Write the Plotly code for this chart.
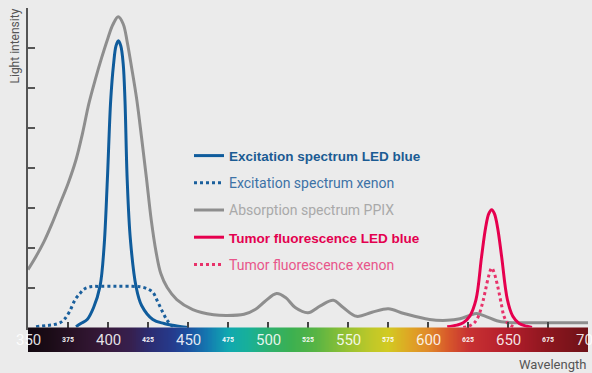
import plotly.graph_objects as go
import numpy as np

# ---------------- data ----------------
wl_led_blue = [380, 383, 387, 391, 395, 397.5, 399.6, 401.7, 403.5, 405, 406.5, 408, 409.5,
               410.6, 412, 414, 417.5, 421, 428, 435, 443, 450]
int_led_blue = [0.02, 0.1, 0.2, 0.5, 1.03, 2.0, 3.7, 5.7, 6.6, 7.05, 7.18, 7.05, 6.6,
                5.7, 3.7, 2.2, 1.03, 0.55, 0.2, 0.1, 0.04, 0.0]

wl_xenon_blue = [355, 362, 366, 370, 373, 376, 379.5, 382.5, 385, 389, 395, 405, 415, 420,
                 424, 428, 431, 434, 437, 440, 442]
int_xenon_blue = [0.02, 0.05, 0.07, 0.12, 0.22, 0.4, 0.7, 0.85, 0.96, 1.02, 1.03, 1.03, 1.03, 1.02,
                  0.98, 0.88, 0.65, 0.4, 0.18, 0.04, 0.0]

wl_ppix = [350, 355, 360, 365, 370, 375, 380, 384, 388, 392, 396, 400, 403, 406.4,
           409.5, 412, 414.8, 418, 421, 424, 427, 430, 433, 437, 443, 453, 466, 474,
           485, 492, 498, 505.4, 511, 517, 525, 533, 540.8, 547, 555.4, 565, 575.2, 585,
           601, 612, 620, 626, 630.4, 636, 643, 649, 660, 700]
int_ppix = [1.45, 1.78, 2.15, 2.6, 3.1, 3.6, 4.2, 4.85, 5.6, 6.2, 6.75, 7.25, 7.58, 7.78,
            7.6, 7.15, 6.5, 5.7, 4.75, 3.75, 2.7, 1.9, 1.35, 1.0, 0.7, 0.45, 0.32, 0.3,
            0.33, 0.45, 0.65, 0.85, 0.75, 0.5, 0.37, 0.55, 0.68, 0.5, 0.28, 0.38, 0.47, 0.35,
            0.2, 0.18, 0.22, 0.3, 0.35, 0.28, 0.17, 0.13, 0.12, 0.12]

wl_led_red = [612, 618, 622, 626, 630, 633.5, 636, 638, 639.8, 641.5, 643.5, 646, 649.6,
              653, 657, 661.7, 665]
int_led_red = [0.02, 0.06, 0.12, 0.28, 0.7, 1.78, 2.5, 2.85, 2.95, 2.85, 2.5, 1.78, 0.7,
               0.28, 0.1, 0.03, 0.0]

wl_xenon_red = [622, 626, 629, 631.5, 634, 636, 638, 639.8, 641.5, 644, 646, 647.5, 650, 654.4]
int_xenon_red = [0.0, 0.04, 0.12, 0.28, 0.6, 0.95, 1.3, 1.49, 1.35, 0.95, 0.55, 0.28, 0.1, 0.0]

major_ticks = [350, 400, 450, 500, 550, 600, 650, 700]
minor_ticks = [375, 425, 475, 525, 575, 625, 675]

names = ["Excitation spectrum LED blue", "Excitation spectrum xenon", "Absorption spectrum PPIX",
         "Tumor fluorescence LED blue", "Tumor fluorescence xenon"]

# spectrum colour stops (wavelength, colour)
spec_wl = [350, 365, 380, 400, 415, 425, 440, 450, 462, 475, 488, 500, 515, 530, 550, 565,
           575, 588, 600, 612, 625, 650, 675, 700]
spec_col = ["#120810", "#1c0c18", "#2a1228", "#381a3c", "#362050", "#2c2c70", "#253a8c",
            "#1c50a0", "#1478b0", "#10a8b0", "#18b098", "#2cb070", "#3cb050", "#58b444",
            "#98c232", "#c0c828", "#d2ca22", "#dea624", "#e08a2a", "#d85a2a", "#c83232",
            "#b41e2c", "#8c161e", "#6e1218"]

# ---------------- figure ----------------
BG = "#ebebeb"
W, H = 592, 373
ML, MR, MT, MB = 28, 4, 8, 21
plot_h = H - MT - MB
axis_px = 327.5
split = (H - MB - axis_px) / plot_h

fig = go.Figure()

xs = np.arange(350, 700.5, 0.5)
cs = [[(w - 350) / 350, c] for w, c in zip(spec_wl, spec_col)]
fig.add_trace(go.Heatmap(x=xs, y=[0, 1], z=[xs, xs], colorscale=cs, zmin=350, zmax=700,
                         showscale=False, hoverinfo="skip", xaxis="x", yaxis="y2",
                         showlegend=False))

blue = "#0f5c9c"
red = "#e6004e"
gray = "#8e8e8e"
BOLD = "font-family:Liberation Sans, Arial, sans-serif;font-weight:bold;font-size:13.5px;"

fig.add_trace(go.Scatter(x=wl_ppix, y=int_ppix, mode="lines", line=dict(color=gray, width=3, shape="spline"),
                         name="<span style='color:#a9a9a9'>" + names[2] + "</span>",
                         legendgroup="g3", legendrank=3))
fig.add_trace(go.Scatter(x=wl_xenon_blue, y=int_xenon_blue, mode="lines",
                         line=dict(color="#1a5f9c", width=3, dash="dot", shape="spline"),
                         name="<span style='color:#3d72a6'>" + names[1] + "</span>",
                         legendgroup="g2", legendrank=2))
fig.add_trace(go.Scatter(x=wl_led_blue, y=int_led_blue, mode="lines",
                         line=dict(color=blue, width=3, shape="spline"),
                         name="<span style='" + BOLD + "color:#1b5b93'>" + names[0] + "</span>",
                         legendgroup="g1", legendrank=1))
fig.add_trace(go.Scatter(x=wl_xenon_red, y=int_xenon_red, mode="lines",
                         line=dict(color="#e8326a", width=3, dash="dot", shape="spline"),
                         name="<span style='color:#e8558a'>" + names[4] + "</span>",
                         legendgroup="g5", legendrank=5))
fig.add_trace(go.Scatter(x=wl_led_red, y=int_led_red, mode="lines",
                         line=dict(color=red, width=3, shape="spline"),
                         name="<span style='" + BOLD + "color:#e3004f'>" + names[3] + "</span>",
                         legendgroup="g4", legendrank=4))

annotations = []
for t in major_ticks:
    annotations.append(dict(x=t, y=0.5, xref="x", yref="y2", text=str(t), showarrow=False,
                            xanchor="center", yanchor="middle",
                            font=dict(family="Roboto", size=15, color="rgba(255,255,255,0.88)")))
for t in minor_ticks:
    annotations.append(dict(x=t, y=0.5, xref="x", yref="y2", text="<b>" + str(t) + "</b>",
                            showarrow=False, xanchor="center", yanchor="middle",
                            font=dict(family="Roboto Condensed, Roboto", size=8,
                                      color="rgba(255,255,255,0.9)")))
annotations.append(dict(x=(14 - ML) / (W - ML - MR), y=1 + (MT - 7) / plot_h, xref="paper", yref="paper",
                        text="Light intensity", textangle=-90, showarrow=False,
                        xanchor="center", yanchor="top",
                        font=dict(family="Roboto", size=12, color="#555555")))
annotations.append(dict(x=(588 - ML) / (W - ML - MR), y=(H - MB - 364) / plot_h, xref="paper", yref="paper",
                        text="Wavelength", showarrow=False, xanchor="right", yanchor="middle",
                        font=dict(family="Roboto", size=13, color="#555555")))

fig.update_layout(
    width=W, height=H,
    margin=dict(l=ML, r=MR, t=MT, b=MB, pad=0),
    paper_bgcolor=BG, plot_bgcolor=BG,
    showlegend=True,
    legend=dict(x=(189 - ML) / (W - ML - MR), y=(H - MB - 140) / plot_h, xanchor="left", yanchor="top",
                bgcolor="rgba(0,0,0,0)", font=dict(family="Roboto", size=14),
                traceorder="grouped", tracegroupgap=6, itemwidth=30),
    xaxis=dict(range=[350, 700], tickvals=major_ticks + minor_ticks, showticklabels=False,
               ticks="inside", ticklen=6, tickwidth=1.5, tickcolor="#444444",
               showline=True, linecolor="#555555", linewidth=2, showgrid=False, zeroline=False,
               anchor="y", fixedrange=True),
    yaxis=dict(domain=[split, 1], range=[0, 8], dtick=1, tick0=0, showticklabels=False,
               ticks="inside", ticklen=7, tickwidth=1.5, tickcolor="#555555",
               showline=True, linecolor="#555555", linewidth=1.5, showgrid=False, zeroline=False),
    yaxis2=dict(domain=[0, split], range=[0, 1], visible=False, showgrid=False, zeroline=False),
    annotations=annotations,
)

fig.write_html("out.html", config={"displayModeBar": False},
               post_script="document.body.style.margin='0';document.body.style.background='%s';" % BG)
